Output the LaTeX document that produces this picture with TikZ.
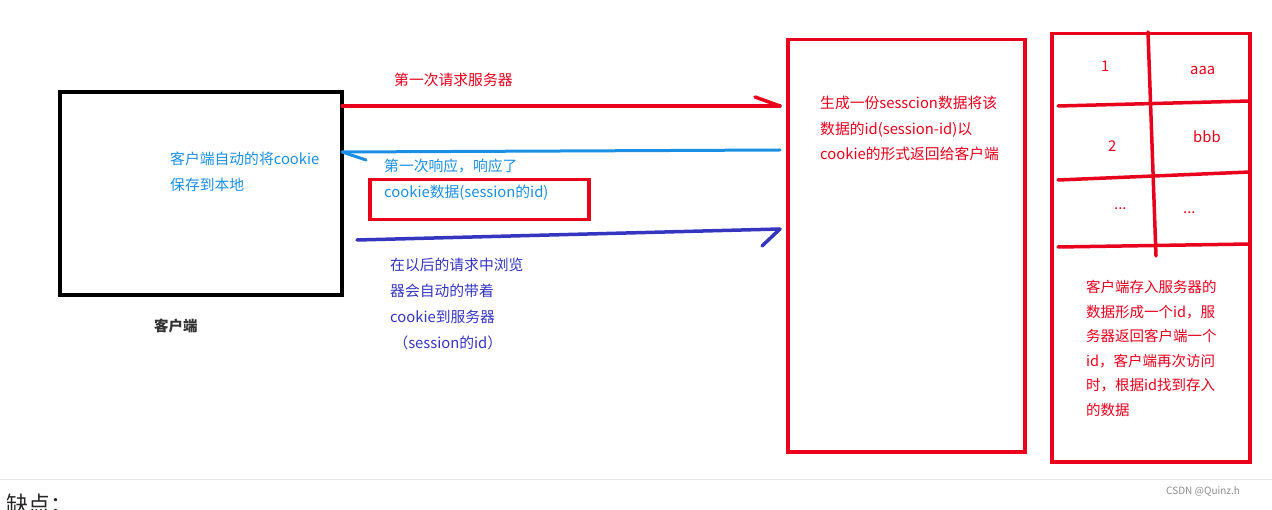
\documentclass[tikz,border=0pt]{standalone}
\usepackage{fontspec}
\setmainfont{Noto Sans CJK SC}
\definecolor{rd}{HTML}{E8001C}
\definecolor{bl}{HTML}{1A8FE3}
\definecolor{ind}{HTML}{3535C0}
\begin{document}
\begin{tikzpicture}[x=1pt,y=-1pt,
  t/.style={font=\fontsize{14.8}{25.5}\selectfont,anchor=north west,inner sep=0pt,align=left},
  rl/.style={rd,line width=3.5pt},
  line cap=round]
\useasboundingbox (0,0) rectangle (1272,510);
% client box
\node (client) [draw=black,line width=4pt,minimum width=282pt,minimum height=203pt,anchor=north west] at (58,90) {};
\node (clab) [t,font=\fontsize{14.5}{12}\selectfont\bfseries,text=black!80] at (154,319) {客户端};
\node (ctext) [t,text=bl] at (170,152) {客户端自动的将cookie\\保存到本地};
% server box
\node (server) [draw=rd,line width=3.5pt,minimum width=237pt,minimum height=412pt,anchor=north west] at (786,38) {};
\node (stext) [t,text=rd] at (820,96) {生成一份sesscion数据将该\\数据的id(session-id)以\\cookie的形式返回给客户端};
% table
\node (tbl) [draw=rd,line width=3.5pt,minimum width=198pt,minimum height=428pt,anchor=north west] at (1050,32) {};
\coordinate (h1a) at (1058,106); \coordinate (h1b) at (1250,101);
\coordinate (h2a) at (1058,180); \coordinate (h2b) at (1250,172);
\coordinate (h3a) at (1058,247); \coordinate (h3b) at (1250,244);
\coordinate (v1a) at (1148,32); \coordinate (v1b) at (1156,256);
\draw[rl] (h1a) -- (h1b);
\draw[rl] (h2a) -- (h2b);
\draw[rl] (h3a) -- (h3b);
\draw[rl] (v1a) -- (v1b);
\node (c1) [t,text=rd] at (1101,61) {1};
\node (c2) [t,text=rd] at (1190,66) {aaa};
\node (c3) [t,text=rd] at (1108,141) {2};
\node (c4) [t,text=rd] at (1193,131) {bbb};
\node (c5) [t,text=rd] at (1114,207) {...};
\node (c6) [t,text=rd] at (1183,211) {...};
\node (ttext) [t,text=rd,font=\fontsize{14.5}{24.5}\selectfont] at (1086,280) {客户端存入服务器的\\数据形成一个id，服\\务器返回客户端一个\\id，客户端再次访问\\时，根据id找到存入\\的数据};
% arrows
\coordinate (a1s) at (342,106); \coordinate (a1e) at (780,106); \coordinate (a1h) at (755,97);
\draw[rl] (a1s) -- (a1e); \draw[rl] (a1h) -- (a1e);
\node (a1l) [t,text=rd] at (394,73) {第一次请求服务器};
\coordinate (a2s) at (780,150); \coordinate (a2e) at (342,152); \coordinate (a2h) at (366,160);
\draw[bl,line width=3pt] (a2s) -- (a2e); \draw[bl,line width=3pt] (a2e) -- (a2h);
\node (a2l) [t,text=bl] at (384,159) {第一次响应，响应了};
\node (rbox) [draw=rd,line width=3.5pt,minimum width=219pt,minimum height=40pt,anchor=north west] at (368,178) {};
\node (a2l2) [t,text=bl] at (384,185) {cookie数据(session的id)};
\coordinate (a3s) at (357,240); \coordinate (a3e) at (780,229); \coordinate (a3h) at (762,246);
\draw[ind,line width=3.5pt] (a3s) -- (a3e); \draw[ind,line width=3.5pt] (a3h) -- (a3e);
\node (a3l) [t,text=ind,font=\fontsize{14.8}{26}\selectfont] at (390,258) {在以后的请求中浏览\\器会自动的带着\\cookie到服务器\\\ （session的id）};
% footer
\coordinate (fa) at (0,479); \coordinate (fb) at (1272,479);
\draw[black!10,line width=0.8pt] (fa) -- (fb);
\node (wm) [t,text=black!45,font=\fontsize{10}{10}\selectfont] at (1166,486) {CSDN @Quinz.h};
\node (qd) [t,text=black!85,font=\fontsize{22}{20}\selectfont] at (6,494) {缺点：};
\end{tikzpicture}
\end{document}
